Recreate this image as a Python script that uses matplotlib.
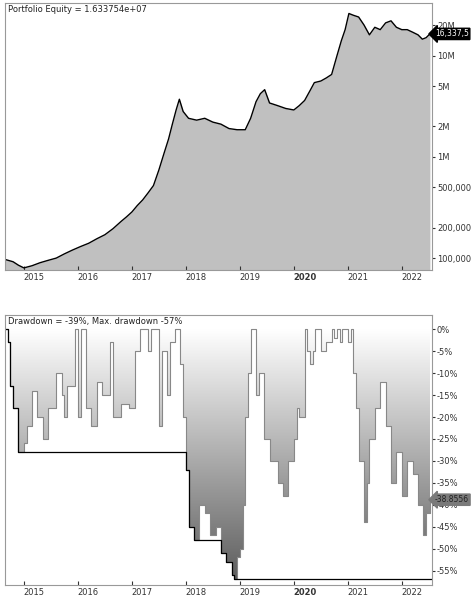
import matplotlib
matplotlib.use("Agg")
import matplotlib.pyplot as plt
import numpy as np
from matplotlib.colors import LinearSegmentedColormap
from matplotlib.ticker import FixedLocator

# equity curve (decimal year, value)
eq_years = [2014.65, 2014.8, 2014.9, 2015.0, 2015.15, 2015.3, 2015.45, 2015.6, 2015.75, 2015.9,
            2016.05, 2016.2, 2016.35, 2016.5, 2016.65, 2016.8, 2016.9, 2017.0, 2017.1, 2017.2,
            2017.3, 2017.4, 2017.5, 2017.6, 2017.68, 2017.75, 2017.82, 2017.88, 2017.95, 2018.05,
            2018.2, 2018.35, 2018.5, 2018.65, 2018.8, 2018.95, 2019.1, 2019.2, 2019.3, 2019.38,
            2019.46, 2019.55, 2019.7, 2019.85, 2020.0, 2020.1, 2020.2, 2020.3, 2020.38, 2020.5,
            2020.6, 2020.7, 2020.8, 2020.88, 2020.95, 2021.02, 2021.1, 2021.2, 2021.3, 2021.4,
            2021.5, 2021.6, 2021.7, 2021.8, 2021.9, 2022.0, 2022.1, 2022.2, 2022.3, 2022.38,
            2022.45, 2022.52]
eq_values = [97e3, 92e3, 85e3, 80e3, 84e3, 90e3, 95e3, 100e3, 110e3, 120e3,
             130e3, 140e3, 155e3, 170e3, 195e3, 230e3, 255e3, 285e3, 330e3, 375e3,
             440e3, 520e3, 740e3, 1.1e6, 1.5e6, 2.1e6, 2.9e6, 3.7e6, 2.8e6, 2.4e6,
             2.3e6, 2.4e6, 2.2e6, 2.1e6, 1.9e6, 1.85e6, 1.85e6, 2.4e6, 3.5e6, 4.2e6,
             4.6e6, 3.4e6, 3.2e6, 3.0e6, 2.9e6, 3.2e6, 3.6e6, 4.5e6, 5.4e6, 5.6e6,
             6.0e6, 6.5e6, 10e6, 14e6, 18e6, 26e6, 25e6, 24e6, 20e6, 16e6,
             19e6, 18e6, 21e6, 22e6, 19e6, 18e6, 18e6, 17e6, 16e6, 14.5e6,
             15e6, 16.34e6]

# drawdown (decimal year, percent)
dd_years = [2014.65, 2014.7, 2014.75, 2014.8, 2014.9, 2015.0, 2015.05, 2015.15, 2015.25, 2015.35,
            2015.45, 2015.6, 2015.7, 2015.75, 2015.8, 2015.95, 2016.0, 2016.05, 2016.15, 2016.25,
            2016.35, 2016.45, 2016.6, 2016.65, 2016.8, 2016.95, 2017.05, 2017.15, 2017.3, 2017.35,
            2017.5, 2017.55, 2017.65, 2017.7, 2017.8, 2017.9, 2017.95, 2018.0, 2018.05, 2018.15,
            2018.25, 2018.35, 2018.45, 2018.55, 2018.65, 2018.75, 2018.85, 2018.9, 2018.95, 2019.0,
            2019.05, 2019.1, 2019.15, 2019.2, 2019.3, 2019.35, 2019.45, 2019.55, 2019.7, 2019.8,
            2019.9, 2020.0, 2020.05, 2020.1, 2020.2, 2020.25, 2020.3, 2020.35, 2020.4, 2020.5,
            2020.6, 2020.7, 2020.75, 2020.8, 2020.85, 2020.9, 2021.0, 2021.05, 2021.1, 2021.15,
            2021.2, 2021.3, 2021.35, 2021.4, 2021.5, 2021.6, 2021.7, 2021.8, 2021.9, 2022.0,
            2022.1, 2022.2, 2022.3, 2022.4, 2022.45, 2022.52]
dd_values = [0, -3, -13, -18, -28, -26, -22, -14, -20, -25,
             -18, -10, -15, -20, -13, 0, -20, 0, -18, -22,
             -12, -15, -3, -20, -17, -18, -5, 0, -5, 0,
             -22, -5, -15, -3, 0, -8, -20, -32, -45, -48,
             -40, -42, -47, -45, -51, -53, -56, -57, -52, -50,
             -40, -20, -10, 0, -15, -10, -25, -30, -35, -38,
             -30, -25, -18, -20, 0, -5, -8, -5, 0, -5,
             -3, 0, -2, 0, -3, 0, -3, 0, -10, -18,
             -30, -44, -35, -25, -18, -12, -22, -35, -28, -38,
             -30, -33, -40, -47, -42, -38.8556]

year_ticks = [2015, 2016, 2017, 2018, 2019, 2020, 2021, 2022]
eq_ticks = [100e3, 200e3, 500e3, 1e6, 2e6, 5e6, 10e6, 20e6]
eq_tick_labels = ["100,000", "200,000", "500,000", "1M", "2M", "5M", "10M", "20M"]
dd_ticks = [0, -5, -10, -15, -20, -25, -30, -35, -40, -45, -50, -55]

FS = 6.0
x0, x1 = 2014.65, 2022.56

fig = plt.figure(figsize=(4.74, 5.99), dpi=100)
ax1 = fig.add_axes([0.0105, 0.549, 0.901, 0.446])
ax2 = fig.add_axes([0.0105, 0.0234, 0.901, 0.451])


def style_axis(ax):
    ax.set_xlim(x0, x1)
    ax.yaxis.tick_right()
    ax.tick_params(axis="y", labelsize=FS, length=2, pad=1.5, colors="#333333", direction="out")
    ax.tick_params(axis="x", labelsize=FS, length=3, direction="in", pad=2, colors="#333333")
    ax.set_xticks(year_ticks)
    ax.set_xticklabels([str(y) for y in year_ticks])
    for lbl in ax.get_xticklabels():
        lbl.set_ha("left")
        if lbl.get_text() == "2020":
            lbl.set_fontweight("bold")
    for s in ax.spines.values():
        s.set_color("#999999")
        s.set_linewidth(0.8)


# equity panel
ax1.set_yscale("log")
ax1.fill_between(eq_years, eq_values, 1e3, color="#c0c0c0", lw=0)
ax1.plot(eq_years, eq_values, color="black", lw=1.0)
ax1.set_ylim(76e3, 33e6)
style_axis(ax1)
ax1.yaxis.set_major_locator(FixedLocator(eq_ticks))
ax1.yaxis.set_minor_locator(FixedLocator([]))
ax1.set_yticks(eq_ticks)
ax1.set_yticklabels(eq_tick_labels)
ax1.text(0.008, 0.993, "Portfolio Equity = 1.633754e+07", transform=ax1.transAxes,
         fontsize=FS, va="top", ha="left", color="#222222")
ax1.annotate("16,337,5", xy=(1.0, eq_values[-1]), xycoords=("axes fraction", "data"),
             xytext=(2, 0), textcoords="offset points", fontsize=5.5, color="white",
             va="center", ha="left",
             bbox=dict(boxstyle="larrow,pad=0.15", fc="black", ec="black"))

# drawdown panel
ylo, yhi = -58.3, 3.3
style_axis(ax2)
poly = ax2.fill_between(dd_years, dd_values, 0, step="post", color="none", lw=0)
cmap = LinearSegmentedColormap.from_list("g", ["#ffffff", "#5e5e5e"])
grad = np.linspace(0, 1, 256).reshape(-1, 1)
img = ax2.imshow(grad, extent=[x0, x1, -57, 0], origin="upper", aspect="auto", cmap=cmap)
img.set_clip_path(poly.get_paths()[0], transform=ax2.transData)
ax2.step(dd_years, dd_values, where="post", color="#888888", lw=0.8)
maxdd = np.minimum.accumulate(dd_values)
ax2.step(dd_years + [x1], list(maxdd) + [maxdd[-1]], where="post", color="black", lw=0.9)
ax2.set_ylim(ylo, yhi)
ax2.set_xlim(x0, x1)
ax2.set_yticks(dd_ticks)
ax2.set_yticklabels([f"{t}%" for t in dd_ticks])
ax2.text(0.008, 0.993, "Drawdown = -39%, Max. drawdown -57%", transform=ax2.transAxes,
         fontsize=FS, va="top", ha="left", color="#222222")
ax2.annotate("-38.8556", xy=(1.0, dd_values[-1]), xycoords=("axes fraction", "data"),
             xytext=(2, 0), textcoords="offset points", fontsize=5.5, color="#222222",
             va="center", ha="left",
             bbox=dict(boxstyle="larrow,pad=0.15", fc="#7a7a7a", ec="#7a7a7a"))

fig.savefig("out.png", dpi=100)
